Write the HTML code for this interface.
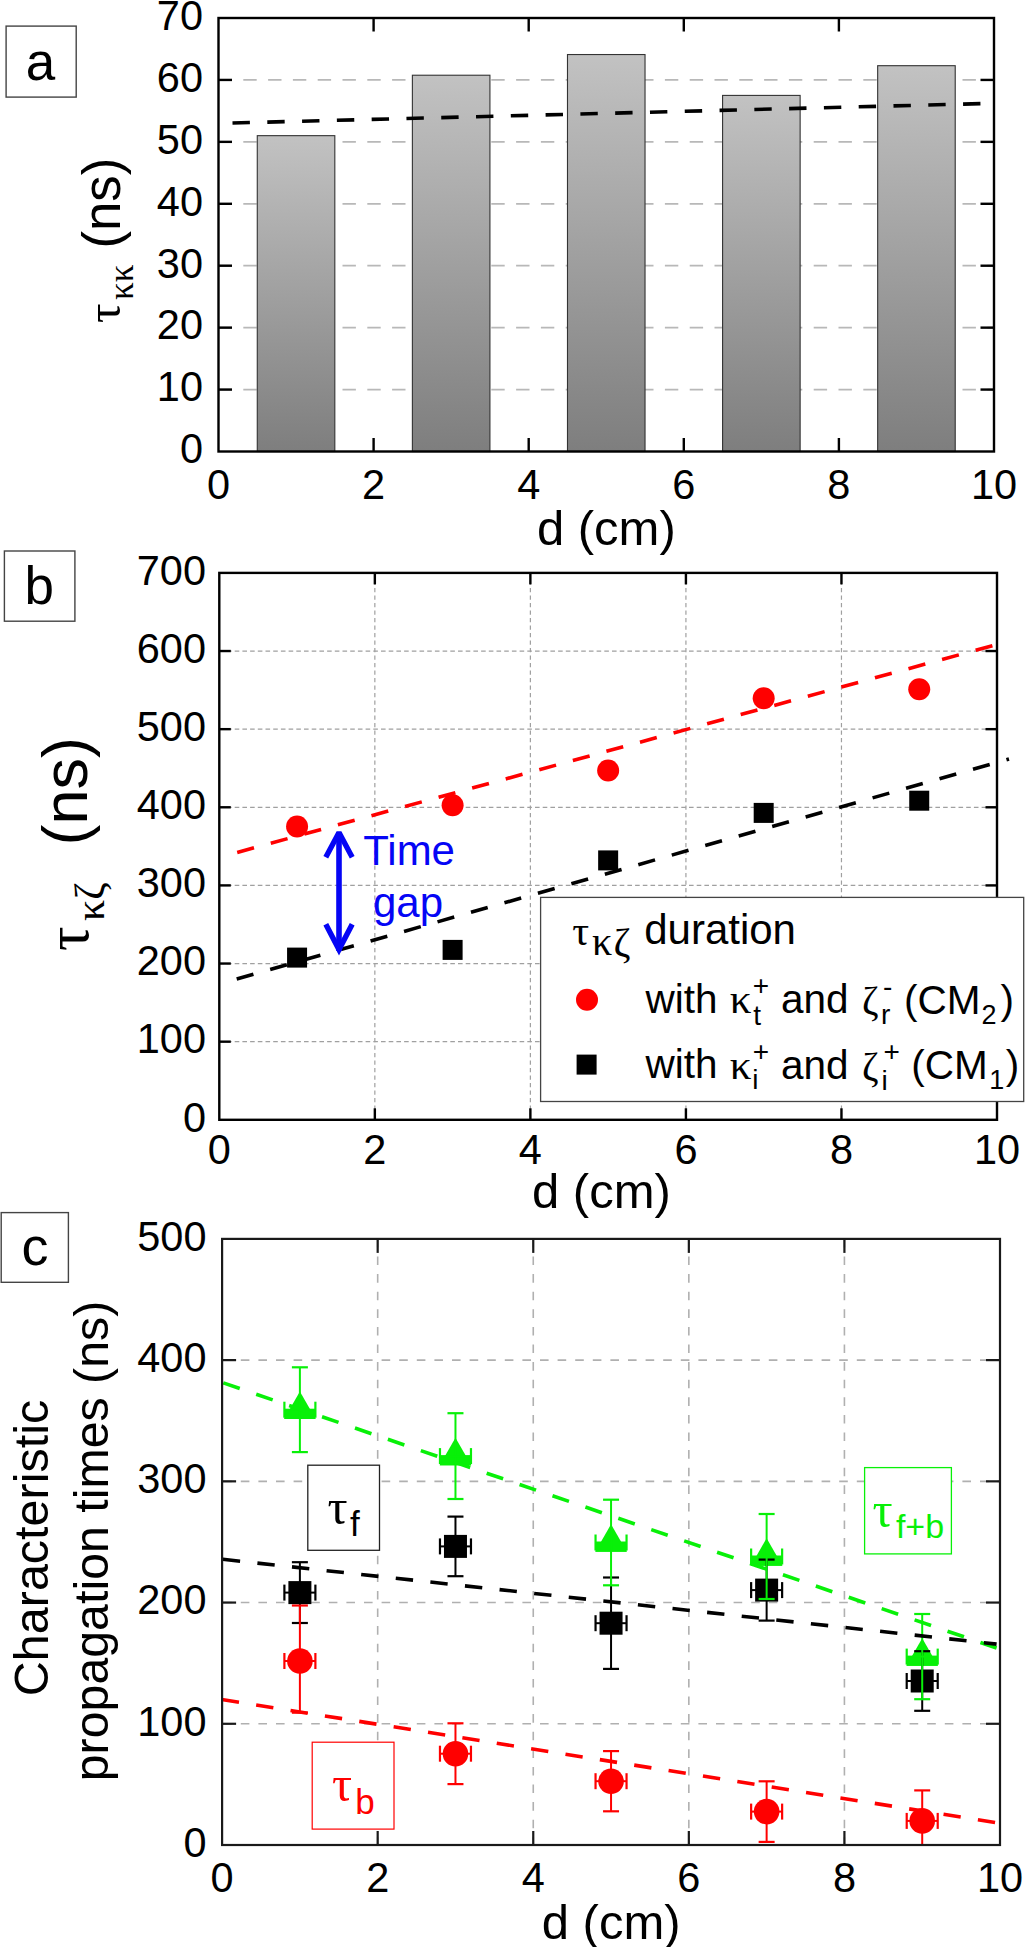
<!DOCTYPE html>
<html><head><meta charset="utf-8"><title>Figure</title>
<style>html,body{margin:0;padding:0;background:#fff;}svg{display:block;}</style></head>
<body><svg width="1025" height="1947" viewBox="0 0 1025 1947">
<rect x="0" y="0" width="1025" height="1947" fill="#fff"/>
<defs><linearGradient id="bg" x1="0" y1="0" x2="0" y2="1"><stop offset="0" stop-color="#c2c2c2"/><stop offset="1" stop-color="#7e7e7e"/></linearGradient></defs>
<line x1="218.5" y1="389.57" x2="994" y2="389.57" stroke="#b8b8b8" stroke-width="1.8" stroke-dasharray="13.4 11.4"/>
<line x1="218.5" y1="327.64" x2="994" y2="327.64" stroke="#b8b8b8" stroke-width="1.8" stroke-dasharray="13.4 11.4"/>
<line x1="218.5" y1="265.71" x2="994" y2="265.71" stroke="#b8b8b8" stroke-width="1.8" stroke-dasharray="13.4 11.4"/>
<line x1="218.5" y1="203.79" x2="994" y2="203.79" stroke="#b8b8b8" stroke-width="1.8" stroke-dasharray="13.4 11.4"/>
<line x1="218.5" y1="141.86" x2="994" y2="141.86" stroke="#b8b8b8" stroke-width="1.8" stroke-dasharray="13.4 11.4"/>
<line x1="218.5" y1="79.93" x2="994" y2="79.93" stroke="#b8b8b8" stroke-width="1.8" stroke-dasharray="13.4 11.4"/>
<rect x="257.27" y="135.66" width="77.55" height="315.84" fill="url(#bg)" stroke="#333" stroke-width="1.1" />
<rect x="412.38" y="75.22" width="77.55" height="376.28" fill="url(#bg)" stroke="#333" stroke-width="1.1" />
<rect x="567.48" y="54.54" width="77.55" height="396.96" fill="url(#bg)" stroke="#333" stroke-width="1.1" />
<rect x="722.58" y="95.41" width="77.55" height="356.09" fill="url(#bg)" stroke="#333" stroke-width="1.1" />
<rect x="877.67" y="65.69" width="77.55" height="385.81" fill="url(#bg)" stroke="#333" stroke-width="1.1" />
<line x1="232.5" y1="123" x2="982" y2="103.6" stroke="#000" stroke-width="3.6" stroke-dasharray="17.4 17.4"/>
<rect x="218.5" y="18" width="775.5" height="433.5" fill="none" stroke="#000" stroke-width="2.4" />
<line x1="218.5" y1="389.57" x2="232" y2="389.57" stroke="#000" stroke-width="2.4" />
<line x1="994" y1="389.57" x2="980.5" y2="389.57" stroke="#000" stroke-width="2.4" />
<line x1="218.5" y1="327.64" x2="232" y2="327.64" stroke="#000" stroke-width="2.4" />
<line x1="994" y1="327.64" x2="980.5" y2="327.64" stroke="#000" stroke-width="2.4" />
<line x1="218.5" y1="265.71" x2="232" y2="265.71" stroke="#000" stroke-width="2.4" />
<line x1="994" y1="265.71" x2="980.5" y2="265.71" stroke="#000" stroke-width="2.4" />
<line x1="218.5" y1="203.79" x2="232" y2="203.79" stroke="#000" stroke-width="2.4" />
<line x1="994" y1="203.79" x2="980.5" y2="203.79" stroke="#000" stroke-width="2.4" />
<line x1="218.5" y1="141.86" x2="232" y2="141.86" stroke="#000" stroke-width="2.4" />
<line x1="994" y1="141.86" x2="980.5" y2="141.86" stroke="#000" stroke-width="2.4" />
<line x1="218.5" y1="79.93" x2="232" y2="79.93" stroke="#000" stroke-width="2.4" />
<line x1="994" y1="79.93" x2="980.5" y2="79.93" stroke="#000" stroke-width="2.4" />
<line x1="373.6" y1="451.5" x2="373.6" y2="438" stroke="#000" stroke-width="2.4" />
<line x1="373.6" y1="18" x2="373.6" y2="31.5" stroke="#000" stroke-width="2.4" />
<line x1="528.7" y1="451.5" x2="528.7" y2="438" stroke="#000" stroke-width="2.4" />
<line x1="528.7" y1="18" x2="528.7" y2="31.5" stroke="#000" stroke-width="2.4" />
<line x1="683.8" y1="451.5" x2="683.8" y2="438" stroke="#000" stroke-width="2.4" />
<line x1="683.8" y1="18" x2="683.8" y2="31.5" stroke="#000" stroke-width="2.4" />
<line x1="838.9" y1="451.5" x2="838.9" y2="438" stroke="#000" stroke-width="2.4" />
<line x1="838.9" y1="18" x2="838.9" y2="31.5" stroke="#000" stroke-width="2.4" />
<text transform="translate(203,463.3) scale(1,1.04)" font-size="41.5" text-anchor="end" font-family="Liberation Sans, Arial, sans-serif" fill="#000" >0</text>
<text transform="translate(203,401.37) scale(1,1.04)" font-size="41.5" text-anchor="end" font-family="Liberation Sans, Arial, sans-serif" fill="#000" >10</text>
<text transform="translate(203,339.44) scale(1,1.04)" font-size="41.5" text-anchor="end" font-family="Liberation Sans, Arial, sans-serif" fill="#000" >20</text>
<text transform="translate(203,277.51) scale(1,1.04)" font-size="41.5" text-anchor="end" font-family="Liberation Sans, Arial, sans-serif" fill="#000" >30</text>
<text transform="translate(203,215.59) scale(1,1.04)" font-size="41.5" text-anchor="end" font-family="Liberation Sans, Arial, sans-serif" fill="#000" >40</text>
<text transform="translate(203,153.66) scale(1,1.04)" font-size="41.5" text-anchor="end" font-family="Liberation Sans, Arial, sans-serif" fill="#000" >50</text>
<text transform="translate(203,91.73) scale(1,1.04)" font-size="41.5" text-anchor="end" font-family="Liberation Sans, Arial, sans-serif" fill="#000" >60</text>
<text transform="translate(203,29.8) scale(1,1.04)" font-size="41.5" text-anchor="end" font-family="Liberation Sans, Arial, sans-serif" fill="#000" >70</text>
<text transform="translate(218.5,498.6) scale(1,1.04)" font-size="41.5" text-anchor="middle" font-family="Liberation Sans, Arial, sans-serif" fill="#000" >0</text>
<text transform="translate(373.6,498.6) scale(1,1.04)" font-size="41.5" text-anchor="middle" font-family="Liberation Sans, Arial, sans-serif" fill="#000" >2</text>
<text transform="translate(528.7,498.6) scale(1,1.04)" font-size="41.5" text-anchor="middle" font-family="Liberation Sans, Arial, sans-serif" fill="#000" >4</text>
<text transform="translate(683.8,498.6) scale(1,1.04)" font-size="41.5" text-anchor="middle" font-family="Liberation Sans, Arial, sans-serif" fill="#000" >6</text>
<text transform="translate(838.9,498.6) scale(1,1.04)" font-size="41.5" text-anchor="middle" font-family="Liberation Sans, Arial, sans-serif" fill="#000" >8</text>
<text transform="translate(994,498.6) scale(1,1.04)" font-size="41.5" text-anchor="middle" font-family="Liberation Sans, Arial, sans-serif" fill="#000" >10</text>
<text transform="translate(606.3,545.1)" font-size="49" text-anchor="middle" font-family="Liberation Sans, Arial, sans-serif" fill="#000" >d (cm)</text>
<text transform="translate(120,323) rotate(-90)" font-size="49" font-family="Liberation Serif, Times New Roman, serif">τ</text>
<text transform="translate(132.7,300) rotate(-90)" font-size="35" font-family="Liberation Serif, Times New Roman, serif">κκ</text>
<text transform="translate(119.5,248.6) rotate(-90)" font-size="52.8" font-family="Liberation Sans, Arial, sans-serif">(ns)</text>
<rect x="6.1" y="26.1" width="70.1" height="71" fill="#fff" stroke="#444" stroke-width="1.4" />
<text transform="translate(40.5,79.5)" font-size="53" text-anchor="middle" font-family="Liberation Sans, Arial, sans-serif" fill="#000" >a</text>
<line x1="219.3" y1="1041.67" x2="997" y2="1041.67" stroke="#a0a0a0" stroke-width="1.2" stroke-dasharray="4.6 3.1"/>
<line x1="219.3" y1="963.54" x2="997" y2="963.54" stroke="#a0a0a0" stroke-width="1.2" stroke-dasharray="4.6 3.1"/>
<line x1="219.3" y1="885.41" x2="997" y2="885.41" stroke="#a0a0a0" stroke-width="1.2" stroke-dasharray="4.6 3.1"/>
<line x1="219.3" y1="807.29" x2="997" y2="807.29" stroke="#a0a0a0" stroke-width="1.2" stroke-dasharray="4.6 3.1"/>
<line x1="219.3" y1="729.16" x2="997" y2="729.16" stroke="#a0a0a0" stroke-width="1.2" stroke-dasharray="4.6 3.1"/>
<line x1="219.3" y1="651.03" x2="997" y2="651.03" stroke="#a0a0a0" stroke-width="1.2" stroke-dasharray="4.6 3.1"/>
<line x1="374.84" y1="572.9" x2="374.84" y2="1119.8" stroke="#a0a0a0" stroke-width="1.2" stroke-dasharray="4.4 3.1"/>
<line x1="530.38" y1="572.9" x2="530.38" y2="1119.8" stroke="#a0a0a0" stroke-width="1.2" stroke-dasharray="4.4 3.1"/>
<line x1="685.92" y1="572.9" x2="685.92" y2="1119.8" stroke="#a0a0a0" stroke-width="1.2" stroke-dasharray="4.4 3.1"/>
<line x1="841.46" y1="572.9" x2="841.46" y2="1119.8" stroke="#a0a0a0" stroke-width="1.2" stroke-dasharray="4.4 3.1"/>
<line x1="237.2" y1="852.4" x2="992.7" y2="645.6" stroke="#f00" stroke-width="3.6" stroke-dasharray="17.4 17.4"/>
<line x1="236.7" y1="979.1" x2="1009" y2="759" stroke="#000" stroke-width="3.6" stroke-dasharray="17.4 17.4"/>
<circle cx="297.07" cy="826.5" r="11" fill="#f00"/>
<circle cx="452.61" cy="805.2" r="11" fill="#f00"/>
<circle cx="608.15" cy="770.5" r="11" fill="#f00"/>
<circle cx="763.69" cy="698.2" r="11" fill="#f00"/>
<circle cx="919.23" cy="689.3" r="11" fill="#f00"/>
<rect x="287.07" y="947.6" width="20" height="20" fill="#000" stroke="none" stroke-width="0" />
<rect x="442.61" y="939.9" width="20" height="20" fill="#000" stroke="none" stroke-width="0" />
<rect x="598.15" y="850.4" width="20" height="20" fill="#000" stroke="none" stroke-width="0" />
<rect x="753.69" y="802.9" width="20" height="20" fill="#000" stroke="none" stroke-width="0" />
<rect x="909.23" y="790.7" width="20" height="20" fill="#000" stroke="none" stroke-width="0" />
<rect x="219.3" y="572.9" width="777.7" height="546.9" fill="none" stroke="#000" stroke-width="2.4" />
<line x1="219.3" y1="1041.67" x2="230.8" y2="1041.67" stroke="#000" stroke-width="2.4" />
<line x1="997" y1="1041.67" x2="985.5" y2="1041.67" stroke="#000" stroke-width="2.4" />
<line x1="219.3" y1="963.54" x2="230.8" y2="963.54" stroke="#000" stroke-width="2.4" />
<line x1="997" y1="963.54" x2="985.5" y2="963.54" stroke="#000" stroke-width="2.4" />
<line x1="219.3" y1="885.41" x2="230.8" y2="885.41" stroke="#000" stroke-width="2.4" />
<line x1="997" y1="885.41" x2="985.5" y2="885.41" stroke="#000" stroke-width="2.4" />
<line x1="219.3" y1="807.29" x2="230.8" y2="807.29" stroke="#000" stroke-width="2.4" />
<line x1="997" y1="807.29" x2="985.5" y2="807.29" stroke="#000" stroke-width="2.4" />
<line x1="219.3" y1="729.16" x2="230.8" y2="729.16" stroke="#000" stroke-width="2.4" />
<line x1="997" y1="729.16" x2="985.5" y2="729.16" stroke="#000" stroke-width="2.4" />
<line x1="219.3" y1="651.03" x2="230.8" y2="651.03" stroke="#000" stroke-width="2.4" />
<line x1="997" y1="651.03" x2="985.5" y2="651.03" stroke="#000" stroke-width="2.4" />
<line x1="374.84" y1="1119.8" x2="374.84" y2="1108.3" stroke="#000" stroke-width="2.4" />
<line x1="374.84" y1="572.9" x2="374.84" y2="584.4" stroke="#000" stroke-width="2.4" />
<line x1="530.38" y1="1119.8" x2="530.38" y2="1108.3" stroke="#000" stroke-width="2.4" />
<line x1="530.38" y1="572.9" x2="530.38" y2="584.4" stroke="#000" stroke-width="2.4" />
<line x1="685.92" y1="1119.8" x2="685.92" y2="1108.3" stroke="#000" stroke-width="2.4" />
<line x1="685.92" y1="572.9" x2="685.92" y2="584.4" stroke="#000" stroke-width="2.4" />
<line x1="841.46" y1="1119.8" x2="841.46" y2="1108.3" stroke="#000" stroke-width="2.4" />
<line x1="841.46" y1="572.9" x2="841.46" y2="584.4" stroke="#000" stroke-width="2.4" />
<text transform="translate(206,1131.6) scale(1,1.04)" font-size="41.5" text-anchor="end" font-family="Liberation Sans, Arial, sans-serif" fill="#000" >0</text>
<text transform="translate(206,1053.47) scale(1,1.04)" font-size="41.5" text-anchor="end" font-family="Liberation Sans, Arial, sans-serif" fill="#000" >100</text>
<text transform="translate(206,975.34) scale(1,1.04)" font-size="41.5" text-anchor="end" font-family="Liberation Sans, Arial, sans-serif" fill="#000" >200</text>
<text transform="translate(206,897.21) scale(1,1.04)" font-size="41.5" text-anchor="end" font-family="Liberation Sans, Arial, sans-serif" fill="#000" >300</text>
<text transform="translate(206,819.09) scale(1,1.04)" font-size="41.5" text-anchor="end" font-family="Liberation Sans, Arial, sans-serif" fill="#000" >400</text>
<text transform="translate(206,740.96) scale(1,1.04)" font-size="41.5" text-anchor="end" font-family="Liberation Sans, Arial, sans-serif" fill="#000" >500</text>
<text transform="translate(206,662.83) scale(1,1.04)" font-size="41.5" text-anchor="end" font-family="Liberation Sans, Arial, sans-serif" fill="#000" >600</text>
<text transform="translate(206,584.7) scale(1,1.04)" font-size="41.5" text-anchor="end" font-family="Liberation Sans, Arial, sans-serif" fill="#000" >700</text>
<text transform="translate(219.3,1164.2) scale(1,1.04)" font-size="41.5" text-anchor="middle" font-family="Liberation Sans, Arial, sans-serif" fill="#000" >0</text>
<text transform="translate(374.84,1164.2) scale(1,1.04)" font-size="41.5" text-anchor="middle" font-family="Liberation Sans, Arial, sans-serif" fill="#000" >2</text>
<text transform="translate(530.38,1164.2) scale(1,1.04)" font-size="41.5" text-anchor="middle" font-family="Liberation Sans, Arial, sans-serif" fill="#000" >4</text>
<text transform="translate(685.92,1164.2) scale(1,1.04)" font-size="41.5" text-anchor="middle" font-family="Liberation Sans, Arial, sans-serif" fill="#000" >6</text>
<text transform="translate(841.46,1164.2) scale(1,1.04)" font-size="41.5" text-anchor="middle" font-family="Liberation Sans, Arial, sans-serif" fill="#000" >8</text>
<text transform="translate(997,1164.2) scale(1,1.04)" font-size="41.5" text-anchor="middle" font-family="Liberation Sans, Arial, sans-serif" fill="#000" >10</text>
<text transform="translate(601.4,1208)" font-size="49" text-anchor="middle" font-family="Liberation Sans, Arial, sans-serif" fill="#000" >d (cm)</text>
<line x1="339" y1="832" x2="339" y2="951" stroke="#0505f5" stroke-width="5.6" />
<polyline points="325.8,857.2 339,832.5 352.2,857.2" fill="none" stroke="#0505f5" stroke-width="5.4" stroke-linejoin="bevel"/>
<polyline points="325.8,924.2 339,949.6 352.2,924.2" fill="none" stroke="#0505f5" stroke-width="5.4" stroke-linejoin="miter"/>
<text transform="translate(363.2,864.8)" font-size="42" text-anchor="start" font-family="Liberation Sans, Arial, sans-serif" fill="#0505f5" >Time</text>
<text transform="translate(373,917.4)" font-size="42" text-anchor="start" font-family="Liberation Sans, Arial, sans-serif" fill="#0505f5" >gap</text>
<rect x="540.6" y="897.4" width="483.1" height="204.1" fill="#fff" stroke="#444" stroke-width="1.3" />
<text x="572.3" y="944.5" font-size="42" font-family="Liberation Serif, Times New Roman, serif">τ</text>
<text x="591.9" y="955.3" font-size="40" font-family="Liberation Serif, Times New Roman, serif">κ</text>
<text x="613.4" y="956" font-size="41" font-family="Liberation Serif, Times New Roman, serif">ζ</text>
<text transform="translate(644.2,944.3)" font-size="42" text-anchor="start" font-family="Liberation Sans, Arial, sans-serif" fill="#000" >duration</text>
<circle cx="587" cy="999.8" r="11" fill="#f00"/>
<rect x="576.6" y="1054.6" width="20" height="20" fill="#000" stroke="none" stroke-width="0" />
<text transform="translate(645.6,1012.8)" font-size="40.5" text-anchor="start" font-family="Liberation Sans, Arial, sans-serif" fill="#000" >with</text>
<text transform="translate(729.8,1013.4)" font-size="43" text-anchor="start" font-family="Liberation Serif, Times New Roman, serif" fill="#000" >κ</text>
<text transform="translate(753.2,1024.5)" font-size="28" text-anchor="start" font-family="Liberation Sans, Arial, sans-serif" fill="#000" >t</text>
<text transform="translate(752.8,995.4)" font-size="28" text-anchor="start" font-family="Liberation Sans, Arial, sans-serif" fill="#000" >+</text>
<text transform="translate(781,1013.3)" font-size="40.5" text-anchor="start" font-family="Liberation Sans, Arial, sans-serif" fill="#000" >and</text>
<text transform="translate(862.1,1014)" font-size="40" text-anchor="start" font-family="Liberation Serif, Times New Roman, serif" fill="#000" >ζ</text>
<text transform="translate(881,1023.9)" font-size="28" text-anchor="start" font-family="Liberation Sans, Arial, sans-serif" fill="#000" >r</text>
<text transform="translate(882.9,996.4)" font-size="28" text-anchor="start" font-family="Liberation Sans, Arial, sans-serif" fill="#000" >-</text>
<text transform="translate(904,1013.5)" font-size="40.5" text-anchor="start" font-family="Liberation Sans, Arial, sans-serif" fill="#000" >(CM</text>
<text transform="translate(981.4,1024) scale(1,1.04)" font-size="27" text-anchor="start" font-family="Liberation Sans, Arial, sans-serif" fill="#000" >2</text>
<text transform="translate(1000.4,1013.5)" font-size="40.5" text-anchor="start" font-family="Liberation Sans, Arial, sans-serif" fill="#000" >)</text>
<text transform="translate(645.6,1078.2)" font-size="40.5" text-anchor="start" font-family="Liberation Sans, Arial, sans-serif" fill="#000" >with</text>
<text transform="translate(729.8,1078.8)" font-size="43" text-anchor="start" font-family="Liberation Serif, Times New Roman, serif" fill="#000" >κ</text>
<text transform="translate(752.3,1089.3)" font-size="28" text-anchor="start" font-family="Liberation Sans, Arial, sans-serif" fill="#000" >i</text>
<text transform="translate(752.8,1061)" font-size="28" text-anchor="start" font-family="Liberation Sans, Arial, sans-serif" fill="#000" >+</text>
<text transform="translate(781,1078.7)" font-size="40.5" text-anchor="start" font-family="Liberation Sans, Arial, sans-serif" fill="#000" >and</text>
<text transform="translate(862.1,1079.5)" font-size="40" text-anchor="start" font-family="Liberation Serif, Times New Roman, serif" fill="#000" >ζ</text>
<text transform="translate(881.6,1089.5)" font-size="28" text-anchor="start" font-family="Liberation Sans, Arial, sans-serif" fill="#000" >i</text>
<text transform="translate(883.4,1061.3)" font-size="28" text-anchor="start" font-family="Liberation Sans, Arial, sans-serif" fill="#000" >+</text>
<text transform="translate(911.2,1078.7)" font-size="40.5" text-anchor="start" font-family="Liberation Sans, Arial, sans-serif" fill="#000" >(CM</text>
<text transform="translate(989.2,1089.2) scale(1,1.04)" font-size="27" text-anchor="start" font-family="Liberation Sans, Arial, sans-serif" fill="#000" >1</text>
<text transform="translate(1005.7,1078.7)" font-size="40.5" text-anchor="start" font-family="Liberation Sans, Arial, sans-serif" fill="#000" >)</text>
<text transform="translate(87.5,951) rotate(-90)" font-size="61" font-family="Liberation Serif, Times New Roman, serif">τ</text>
<text transform="translate(104,921) rotate(-90)" font-size="42" font-family="Liberation Serif, Times New Roman, serif">κζ</text>
<text transform="translate(86.5,845.5) rotate(-90)" font-size="63" font-family="Liberation Sans, Arial, sans-serif">(ns)</text>
<rect x="4.4" y="551" width="70.5" height="70.2" fill="#fff" stroke="#444" stroke-width="1.4" />
<text transform="translate(39.2,603.7)" font-size="53" text-anchor="middle" font-family="Liberation Sans, Arial, sans-serif" fill="#000" >b</text>
<line x1="222.1" y1="1723.78" x2="1000" y2="1723.78" stroke="#b0b0b0" stroke-width="1.6" stroke-dasharray="8.6 9" stroke-dashoffset="-1.1"/>
<line x1="222.1" y1="1602.56" x2="1000" y2="1602.56" stroke="#b0b0b0" stroke-width="1.6" stroke-dasharray="8.6 9" stroke-dashoffset="-1.1"/>
<line x1="222.1" y1="1481.34" x2="1000" y2="1481.34" stroke="#b0b0b0" stroke-width="1.6" stroke-dasharray="8.6 9" stroke-dashoffset="-1.1"/>
<line x1="222.1" y1="1360.12" x2="1000" y2="1360.12" stroke="#b0b0b0" stroke-width="1.6" stroke-dasharray="8.6 9" stroke-dashoffset="-1.1"/>
<line x1="377.68" y1="1238.9" x2="377.68" y2="1845" stroke="#b0b0b0" stroke-width="1.6" stroke-dasharray="8.6 9"/>
<line x1="533.26" y1="1238.9" x2="533.26" y2="1845" stroke="#b0b0b0" stroke-width="1.6" stroke-dasharray="8.6 9"/>
<line x1="688.84" y1="1238.9" x2="688.84" y2="1845" stroke="#b0b0b0" stroke-width="1.6" stroke-dasharray="8.6 9"/>
<line x1="844.42" y1="1238.9" x2="844.42" y2="1845" stroke="#b0b0b0" stroke-width="1.6" stroke-dasharray="8.6 9"/>
<polygon points="299.89,1391.4 284.09,1418.9 315.69,1418.9" fill="#08f008"/>
<rect x="284.39" y="1409.7" width="31" height="9.2" fill="#08f008" stroke="none" stroke-width="0" />
<polygon points="455.47,1437.8 439.67,1465.3 471.27,1465.3" fill="#08f008"/>
<rect x="439.97" y="1456.1" width="31" height="9.2" fill="#08f008" stroke="none" stroke-width="0" />
<polygon points="611.05,1524.2 595.25,1551.7 626.85,1551.7" fill="#08f008"/>
<rect x="595.55" y="1542.5" width="31" height="9.2" fill="#08f008" stroke="none" stroke-width="0" />
<polygon points="766.63,1538.2 750.83,1565.7 782.43,1565.7" fill="#08f008"/>
<rect x="751.13" y="1556.5" width="31" height="9.2" fill="#08f008" stroke="none" stroke-width="0" />
<polygon points="922.21,1638.3 906.41,1665.8 938.01,1665.8" fill="#08f008"/>
<rect x="906.71" y="1656.6" width="31" height="9.2" fill="#08f008" stroke="none" stroke-width="0" />
<line x1="299.89" y1="1562.2" x2="299.89" y2="1623" stroke="#000" stroke-width="2" />
<line x1="291.89" y1="1562.2" x2="307.89" y2="1562.2" stroke="#000" stroke-width="2.2" />
<line x1="291.89" y1="1623" x2="307.89" y2="1623" stroke="#000" stroke-width="2.2" />
<line x1="284.39" y1="1592.6" x2="315.39" y2="1592.6" stroke="#000" stroke-width="2" />
<line x1="284.39" y1="1584.6" x2="284.39" y2="1600.6" stroke="#000" stroke-width="2.2" />
<line x1="315.39" y1="1584.6" x2="315.39" y2="1600.6" stroke="#000" stroke-width="2.2" />
<line x1="455.47" y1="1516.6" x2="455.47" y2="1576.2" stroke="#000" stroke-width="2" />
<line x1="447.47" y1="1516.6" x2="463.47" y2="1516.6" stroke="#000" stroke-width="2.2" />
<line x1="447.47" y1="1576.2" x2="463.47" y2="1576.2" stroke="#000" stroke-width="2.2" />
<line x1="439.97" y1="1546.4" x2="470.97" y2="1546.4" stroke="#000" stroke-width="2" />
<line x1="439.97" y1="1538.4" x2="439.97" y2="1554.4" stroke="#000" stroke-width="2.2" />
<line x1="470.97" y1="1538.4" x2="470.97" y2="1554.4" stroke="#000" stroke-width="2.2" />
<line x1="611.05" y1="1577.5" x2="611.05" y2="1668.9" stroke="#000" stroke-width="2" />
<line x1="603.05" y1="1577.5" x2="619.05" y2="1577.5" stroke="#000" stroke-width="2.2" />
<line x1="603.05" y1="1668.9" x2="619.05" y2="1668.9" stroke="#000" stroke-width="2.2" />
<line x1="595.55" y1="1623.2" x2="626.55" y2="1623.2" stroke="#000" stroke-width="2" />
<line x1="595.55" y1="1615.2" x2="595.55" y2="1631.2" stroke="#000" stroke-width="2.2" />
<line x1="626.55" y1="1615.2" x2="626.55" y2="1631.2" stroke="#000" stroke-width="2.2" />
<line x1="766.63" y1="1559.6" x2="766.63" y2="1620.6" stroke="#000" stroke-width="2" />
<line x1="758.63" y1="1559.6" x2="774.63" y2="1559.6" stroke="#000" stroke-width="2.2" />
<line x1="758.63" y1="1620.6" x2="774.63" y2="1620.6" stroke="#000" stroke-width="2.2" />
<line x1="751.13" y1="1590.1" x2="782.13" y2="1590.1" stroke="#000" stroke-width="2" />
<line x1="751.13" y1="1582.1" x2="751.13" y2="1598.1" stroke="#000" stroke-width="2.2" />
<line x1="782.13" y1="1582.1" x2="782.13" y2="1598.1" stroke="#000" stroke-width="2.2" />
<line x1="922.21" y1="1651.2" x2="922.21" y2="1710.8" stroke="#000" stroke-width="2" />
<line x1="914.21" y1="1651.2" x2="930.21" y2="1651.2" stroke="#000" stroke-width="2.2" />
<line x1="914.21" y1="1710.8" x2="930.21" y2="1710.8" stroke="#000" stroke-width="2.2" />
<line x1="906.71" y1="1681" x2="937.71" y2="1681" stroke="#000" stroke-width="2" />
<line x1="906.71" y1="1673" x2="906.71" y2="1689" stroke="#000" stroke-width="2.2" />
<line x1="937.71" y1="1673" x2="937.71" y2="1689" stroke="#000" stroke-width="2.2" />
<line x1="299.89" y1="1605.5" x2="299.89" y2="1712.7" stroke="#f00" stroke-width="2" />
<line x1="291.89" y1="1605.5" x2="307.89" y2="1605.5" stroke="#f00" stroke-width="2.2" />
<line x1="291.89" y1="1712.7" x2="307.89" y2="1712.7" stroke="#f00" stroke-width="2.2" />
<line x1="284.39" y1="1661" x2="315.39" y2="1661" stroke="#f00" stroke-width="2" />
<line x1="284.39" y1="1653" x2="284.39" y2="1669" stroke="#f00" stroke-width="2.2" />
<line x1="315.39" y1="1653" x2="315.39" y2="1669" stroke="#f00" stroke-width="2.2" />
<circle cx="299.89" cy="1661" r="12.8" fill="#f00"/>
<line x1="455.47" y1="1723.3" x2="455.47" y2="1784.1" stroke="#f00" stroke-width="2" />
<line x1="447.47" y1="1723.3" x2="463.47" y2="1723.3" stroke="#f00" stroke-width="2.2" />
<line x1="447.47" y1="1784.1" x2="463.47" y2="1784.1" stroke="#f00" stroke-width="2.2" />
<line x1="439.97" y1="1753.7" x2="470.97" y2="1753.7" stroke="#f00" stroke-width="2" />
<line x1="439.97" y1="1745.7" x2="439.97" y2="1761.7" stroke="#f00" stroke-width="2.2" />
<line x1="470.97" y1="1745.7" x2="470.97" y2="1761.7" stroke="#f00" stroke-width="2.2" />
<circle cx="455.47" cy="1753.7" r="12.8" fill="#f00"/>
<line x1="611.05" y1="1751.1" x2="611.05" y2="1811.3" stroke="#f00" stroke-width="2" />
<line x1="603.05" y1="1751.1" x2="619.05" y2="1751.1" stroke="#f00" stroke-width="2.2" />
<line x1="603.05" y1="1811.3" x2="619.05" y2="1811.3" stroke="#f00" stroke-width="2.2" />
<line x1="595.55" y1="1781.2" x2="626.55" y2="1781.2" stroke="#f00" stroke-width="2" />
<line x1="595.55" y1="1773.2" x2="595.55" y2="1789.2" stroke="#f00" stroke-width="2.2" />
<line x1="626.55" y1="1773.2" x2="626.55" y2="1789.2" stroke="#f00" stroke-width="2.2" />
<circle cx="611.05" cy="1781.2" r="12.8" fill="#f00"/>
<line x1="766.63" y1="1781.3" x2="766.63" y2="1841.9" stroke="#f00" stroke-width="2" />
<line x1="758.63" y1="1781.3" x2="774.63" y2="1781.3" stroke="#f00" stroke-width="2.2" />
<line x1="758.63" y1="1841.9" x2="774.63" y2="1841.9" stroke="#f00" stroke-width="2.2" />
<line x1="751.13" y1="1811.6" x2="782.13" y2="1811.6" stroke="#f00" stroke-width="2" />
<line x1="751.13" y1="1803.6" x2="751.13" y2="1819.6" stroke="#f00" stroke-width="2.2" />
<line x1="782.13" y1="1803.6" x2="782.13" y2="1819.6" stroke="#f00" stroke-width="2.2" />
<circle cx="766.63" cy="1811.6" r="12.8" fill="#f00"/>
<line x1="922.21" y1="1790.4" x2="922.21" y2="1845" stroke="#f00" stroke-width="2" />
<line x1="914.21" y1="1790.4" x2="930.21" y2="1790.4" stroke="#f00" stroke-width="2.2" />
<line x1="906.71" y1="1820.9" x2="937.71" y2="1820.9" stroke="#f00" stroke-width="2" />
<line x1="906.71" y1="1812.9" x2="906.71" y2="1828.9" stroke="#f00" stroke-width="2.2" />
<line x1="937.71" y1="1812.9" x2="937.71" y2="1828.9" stroke="#f00" stroke-width="2.2" />
<circle cx="922.21" cy="1820.9" r="12.8" fill="#f00"/>
<rect x="288.39" y="1581.1" width="23" height="23" fill="#000" stroke="none" stroke-width="0" />
<rect x="443.97" y="1534.9" width="23" height="23" fill="#000" stroke="none" stroke-width="0" />
<rect x="599.55" y="1611.7" width="23" height="23" fill="#000" stroke="none" stroke-width="0" />
<rect x="755.13" y="1578.6" width="23" height="23" fill="#000" stroke="none" stroke-width="0" />
<rect x="910.71" y="1669.5" width="23" height="23" fill="#000" stroke="none" stroke-width="0" />
<line x1="299.89" y1="1367.3" x2="299.89" y2="1452.1" stroke="#08f008" stroke-width="2" />
<line x1="291.89" y1="1367.3" x2="307.89" y2="1367.3" stroke="#08f008" stroke-width="2.2" />
<line x1="291.89" y1="1452.1" x2="307.89" y2="1452.1" stroke="#08f008" stroke-width="2.2" />
<line x1="284.39" y1="1409.7" x2="315.39" y2="1409.7" stroke="#08f008" stroke-width="2" />
<line x1="284.39" y1="1401.7" x2="284.39" y2="1417.7" stroke="#08f008" stroke-width="2.2" />
<line x1="315.39" y1="1401.7" x2="315.39" y2="1417.7" stroke="#08f008" stroke-width="2.2" />
<line x1="455.47" y1="1413.2" x2="455.47" y2="1499" stroke="#08f008" stroke-width="2" />
<line x1="447.47" y1="1413.2" x2="463.47" y2="1413.2" stroke="#08f008" stroke-width="2.2" />
<line x1="447.47" y1="1499" x2="463.47" y2="1499" stroke="#08f008" stroke-width="2.2" />
<line x1="439.97" y1="1456.1" x2="470.97" y2="1456.1" stroke="#08f008" stroke-width="2" />
<line x1="439.97" y1="1448.1" x2="439.97" y2="1464.1" stroke="#08f008" stroke-width="2.2" />
<line x1="470.97" y1="1448.1" x2="470.97" y2="1464.1" stroke="#08f008" stroke-width="2.2" />
<line x1="611.05" y1="1499.7" x2="611.05" y2="1585.3" stroke="#08f008" stroke-width="2" />
<line x1="603.05" y1="1499.7" x2="619.05" y2="1499.7" stroke="#08f008" stroke-width="2.2" />
<line x1="603.05" y1="1585.3" x2="619.05" y2="1585.3" stroke="#08f008" stroke-width="2.2" />
<line x1="595.55" y1="1542.5" x2="626.55" y2="1542.5" stroke="#08f008" stroke-width="2" />
<line x1="595.55" y1="1534.5" x2="595.55" y2="1550.5" stroke="#08f008" stroke-width="2.2" />
<line x1="626.55" y1="1534.5" x2="626.55" y2="1550.5" stroke="#08f008" stroke-width="2.2" />
<line x1="766.63" y1="1514" x2="766.63" y2="1599" stroke="#08f008" stroke-width="2" />
<line x1="758.63" y1="1514" x2="774.63" y2="1514" stroke="#08f008" stroke-width="2.2" />
<line x1="758.63" y1="1599" x2="774.63" y2="1599" stroke="#08f008" stroke-width="2.2" />
<line x1="751.13" y1="1556.5" x2="782.13" y2="1556.5" stroke="#08f008" stroke-width="2" />
<line x1="751.13" y1="1548.5" x2="751.13" y2="1564.5" stroke="#08f008" stroke-width="2.2" />
<line x1="782.13" y1="1548.5" x2="782.13" y2="1564.5" stroke="#08f008" stroke-width="2.2" />
<line x1="922.21" y1="1614" x2="922.21" y2="1699.2" stroke="#08f008" stroke-width="2" />
<line x1="914.21" y1="1614" x2="930.21" y2="1614" stroke="#08f008" stroke-width="2.2" />
<line x1="914.21" y1="1699.2" x2="930.21" y2="1699.2" stroke="#08f008" stroke-width="2.2" />
<line x1="906.71" y1="1656.6" x2="937.71" y2="1656.6" stroke="#08f008" stroke-width="2" />
<line x1="906.71" y1="1648.6" x2="906.71" y2="1664.6" stroke="#08f008" stroke-width="2.2" />
<line x1="937.71" y1="1648.6" x2="937.71" y2="1664.6" stroke="#08f008" stroke-width="2.2" />
<line x1="223.3" y1="1382.9" x2="996.6" y2="1648" stroke="#08f008" stroke-width="3.6" stroke-dasharray="17.4 17.4"/>
<line x1="222.8" y1="1559.3" x2="996.6" y2="1644.1" stroke="#000" stroke-width="3.6" stroke-dasharray="17.4 17.4"/>
<line x1="221.8" y1="1699.5" x2="996.8" y2="1822.8" stroke="#f00" stroke-width="3.6" stroke-dasharray="17.4 17.4"/>
<rect x="222.1" y="1238.9" width="777.9" height="606.1" fill="none" stroke="#1a1a1a" stroke-width="2.2" />
<line x1="222.1" y1="1723.78" x2="236.1" y2="1723.78" stroke="#1a1a1a" stroke-width="2.2" />
<line x1="1000" y1="1723.78" x2="986" y2="1723.78" stroke="#1a1a1a" stroke-width="2.2" />
<line x1="222.1" y1="1602.56" x2="236.1" y2="1602.56" stroke="#1a1a1a" stroke-width="2.2" />
<line x1="1000" y1="1602.56" x2="986" y2="1602.56" stroke="#1a1a1a" stroke-width="2.2" />
<line x1="222.1" y1="1481.34" x2="236.1" y2="1481.34" stroke="#1a1a1a" stroke-width="2.2" />
<line x1="1000" y1="1481.34" x2="986" y2="1481.34" stroke="#1a1a1a" stroke-width="2.2" />
<line x1="222.1" y1="1360.12" x2="236.1" y2="1360.12" stroke="#1a1a1a" stroke-width="2.2" />
<line x1="1000" y1="1360.12" x2="986" y2="1360.12" stroke="#1a1a1a" stroke-width="2.2" />
<line x1="377.68" y1="1845" x2="377.68" y2="1831" stroke="#1a1a1a" stroke-width="2.2" />
<line x1="377.68" y1="1238.9" x2="377.68" y2="1252.9" stroke="#1a1a1a" stroke-width="2.2" />
<line x1="533.26" y1="1845" x2="533.26" y2="1831" stroke="#1a1a1a" stroke-width="2.2" />
<line x1="533.26" y1="1238.9" x2="533.26" y2="1252.9" stroke="#1a1a1a" stroke-width="2.2" />
<line x1="688.84" y1="1845" x2="688.84" y2="1831" stroke="#1a1a1a" stroke-width="2.2" />
<line x1="688.84" y1="1238.9" x2="688.84" y2="1252.9" stroke="#1a1a1a" stroke-width="2.2" />
<line x1="844.42" y1="1845" x2="844.42" y2="1831" stroke="#1a1a1a" stroke-width="2.2" />
<line x1="844.42" y1="1238.9" x2="844.42" y2="1252.9" stroke="#1a1a1a" stroke-width="2.2" />
<text transform="translate(206.5,1856.8) scale(1,1.04)" font-size="41.5" text-anchor="end" font-family="Liberation Sans, Arial, sans-serif" fill="#000" >0</text>
<text transform="translate(206.5,1735.58) scale(1,1.04)" font-size="41.5" text-anchor="end" font-family="Liberation Sans, Arial, sans-serif" fill="#000" >100</text>
<text transform="translate(206.5,1614.36) scale(1,1.04)" font-size="41.5" text-anchor="end" font-family="Liberation Sans, Arial, sans-serif" fill="#000" >200</text>
<text transform="translate(206.5,1493.14) scale(1,1.04)" font-size="41.5" text-anchor="end" font-family="Liberation Sans, Arial, sans-serif" fill="#000" >300</text>
<text transform="translate(206.5,1371.92) scale(1,1.04)" font-size="41.5" text-anchor="end" font-family="Liberation Sans, Arial, sans-serif" fill="#000" >400</text>
<text transform="translate(206.5,1250.7) scale(1,1.04)" font-size="41.5" text-anchor="end" font-family="Liberation Sans, Arial, sans-serif" fill="#000" >500</text>
<text transform="translate(222.1,1892.4) scale(1,1.04)" font-size="41.5" text-anchor="middle" font-family="Liberation Sans, Arial, sans-serif" fill="#000" >0</text>
<text transform="translate(377.68,1892.4) scale(1,1.04)" font-size="41.5" text-anchor="middle" font-family="Liberation Sans, Arial, sans-serif" fill="#000" >2</text>
<text transform="translate(533.26,1892.4) scale(1,1.04)" font-size="41.5" text-anchor="middle" font-family="Liberation Sans, Arial, sans-serif" fill="#000" >4</text>
<text transform="translate(688.84,1892.4) scale(1,1.04)" font-size="41.5" text-anchor="middle" font-family="Liberation Sans, Arial, sans-serif" fill="#000" >6</text>
<text transform="translate(844.42,1892.4) scale(1,1.04)" font-size="41.5" text-anchor="middle" font-family="Liberation Sans, Arial, sans-serif" fill="#000" >8</text>
<text transform="translate(1000,1892.4) scale(1,1.04)" font-size="41.5" text-anchor="middle" font-family="Liberation Sans, Arial, sans-serif" fill="#000" >10</text>
<text transform="translate(611.1,1939.4)" font-size="49" text-anchor="middle" font-family="Liberation Sans, Arial, sans-serif" fill="#000" >d (cm)</text>
<rect x="307.8" y="1465.2" width="71.7" height="85.1" fill="#fff" stroke="#222" stroke-width="1.3" />
<text x="327.5" y="1524" font-size="50" font-family="Liberation Serif, Times New Roman, serif">τ<tspan font-size="35" dx="2.5" dy="12" font-family="Liberation Sans, Arial, sans-serif">f</tspan></text>
<rect x="312.2" y="1742.2" width="81.8" height="86.9" fill="#fff" stroke="#f00" stroke-width="1.2" />
<text x="332" y="1801" font-size="50" font-family="Liberation Serif, Times New Roman, serif" fill="#f00">τ<tspan font-size="35" dx="3.2" dy="13" font-family="Liberation Sans, Arial, sans-serif">b</tspan></text>
<rect x="864.6" y="1467.6" width="86.8" height="86.3" fill="#fff" stroke="#08f008" stroke-width="1.3" />
<text x="872.5" y="1527" font-size="50" font-family="Liberation Serif, Times New Roman, serif" fill="#08f008">τ<tspan font-size="34" dx="3.3" dy="11" font-family="Liberation Sans, Arial, sans-serif">f+b</tspan></text>
<text transform="translate(48,1548) rotate(-90)" font-size="48.5" text-anchor="middle" font-family="Liberation Sans, Arial, sans-serif">Characteristic</text>
<text transform="translate(107.8,1541) rotate(-90)" font-size="48.3" text-anchor="middle" font-family="Liberation Sans, Arial, sans-serif">propagation times (ns)</text>
<rect x="1.2" y="1212.6" width="67.2" height="69.7" fill="#fff" stroke="#444" stroke-width="1.4" />
<text transform="translate(35,1265.3)" font-size="54" text-anchor="middle" font-family="Liberation Sans, Arial, sans-serif" fill="#000" >c</text>
</svg></body></html>
